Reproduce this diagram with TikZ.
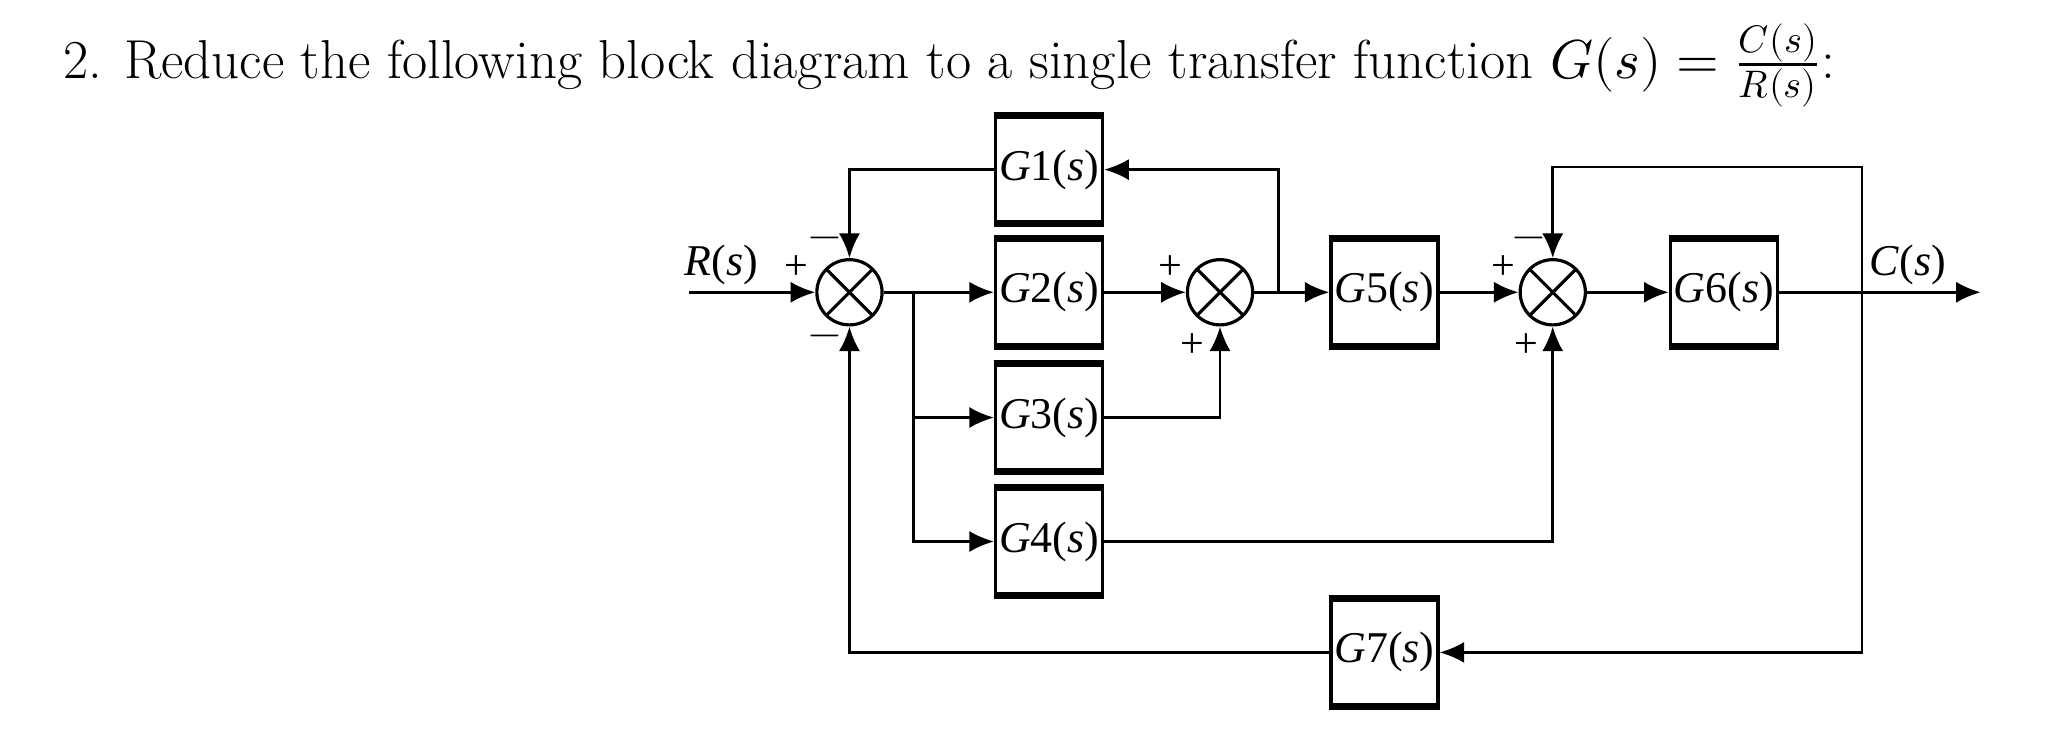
\documentclass[tikz,border=0pt]{standalone}
\usepackage{fontspec}
\setmainfont{Liberation Serif}
\usepackage{unicode-math}
\usetikzlibrary{arrows.meta}
\newfontfamily\titlefont{Latin Modern Roman}
\begin{document}
\begin{tikzpicture}[x=0.013048cm,y=-0.013048cm,
  blk/.style={draw,line width=0.9pt,minimum width=82*0.013048cm,minimum height=80*0.013048cm,inner sep=0pt,font=\fontsize{12.5}{14}\selectfont},
  sum/.style={draw,circle,line width=0.9pt,minimum size=50*0.013048cm,inner sep=0pt,path picture={\draw[line width=0.9pt] (path picture bounding box.south west)--(path picture bounding box.north east) (path picture bounding box.north west)--(path picture bounding box.south east);}},
  ar/.style={-{Latex[length=7pt,width=6pt]},line width=0.8pt},
  ln/.style={line width=0.8pt},
  sg/.style={font=\fontsize{12}{14}\selectfont,inner sep=0pt}]
\useasboundingbox (0,0) rectangle (1568,567);
\node[anchor=base west,inner sep=0pt,font=\titlefont\fontsize{15.6}{18}\selectfont] (title) at (48,60)
 {2. Reduce the following block diagram to a single transfer function $G(s)=\frac{C(s)}{R(s)}$:};
\node[sum] (s1) at (651,224) {};
\node[sum] (s2) at (935,224) {};
\node[sum] (s3) at (1190,224) {};
\node[blk] (g1) at (804,130) {\textit{G}1(\textit{s})};
\node[blk] (g2) at (804,224) {\textit{G}2(\textit{s})};
\node[blk] (g3) at (804,320) {\textit{G}3(\textit{s})};
\node[blk] (g4) at (804,415) {\textit{G}4(\textit{s})};
\node[blk] (g5) at (1061,224) {\textit{G}5(\textit{s})};
\node[blk] (g6) at (1321,224) {\textit{G}6(\textit{s})};
\node[blk] (g7) at (1061,500) {\textit{G}7(\textit{s})};
\foreach \g in {g1,g2,g3,g4,g5,g6,g7}{
  \draw[line width=2pt] (\g.north west)--(\g.north east) (\g.south west)--(\g.south east);}
\coordinate (rin) at (528,224);
\coordinate (out) at (1518,224);
\coordinate (bp) at (700,224);
\coordinate (bp5) at (980,224);
\coordinate (bp6) at (1427,224);
\node[font=\fontsize{12.5}{14}\selectfont] (rl) at (553,203) {\textit{R}(\textit{s})};
\node[font=\fontsize{12.5}{14}\selectfont] (cl) at (1462,203) {\textit{C}(\textit{s})};
\draw[ar] (rin)--(s1);
\draw[ln] (s1)--(bp);
\draw[ar] (bp)--(g2);
\draw[ar] (bp) |- (g3);
\draw[ar] (bp) |- (g4);
\draw[ar] (g2)--(s2);
\draw[ar] (g3) -| (s2);
\draw[ar] (s2)--(g5);
\draw[ar] (bp5) |- (g1);
\draw[ar] (g1) -| (s1);
\draw[ar] (g5)--(s3);
\draw[ar] (g4) -| (s3);
\draw[ar] (s3)--(g6);
\draw[ar] (g6)--(out);
\draw[ar] (bp6) |- (1190,128) -- (s3);
\draw[ar] (bp6) |- (g7);
\draw[ar] (g7) -| (s1);
\node[sg] (p1) at (610,205) {+};
\node[sg] (m1) at (632,186) {$-$};
\node[sg] (m2) at (632,261) {$-$};
\node[sg] (p2) at (897,205) {+};
\node[sg] (p3) at (914,265) {+};
\node[sg] (p4) at (1152,205) {+};
\node[sg] (m3) at (1172,186) {$-$};
\node[sg] (p5) at (1170,265) {+};
\end{tikzpicture}
\end{document}
